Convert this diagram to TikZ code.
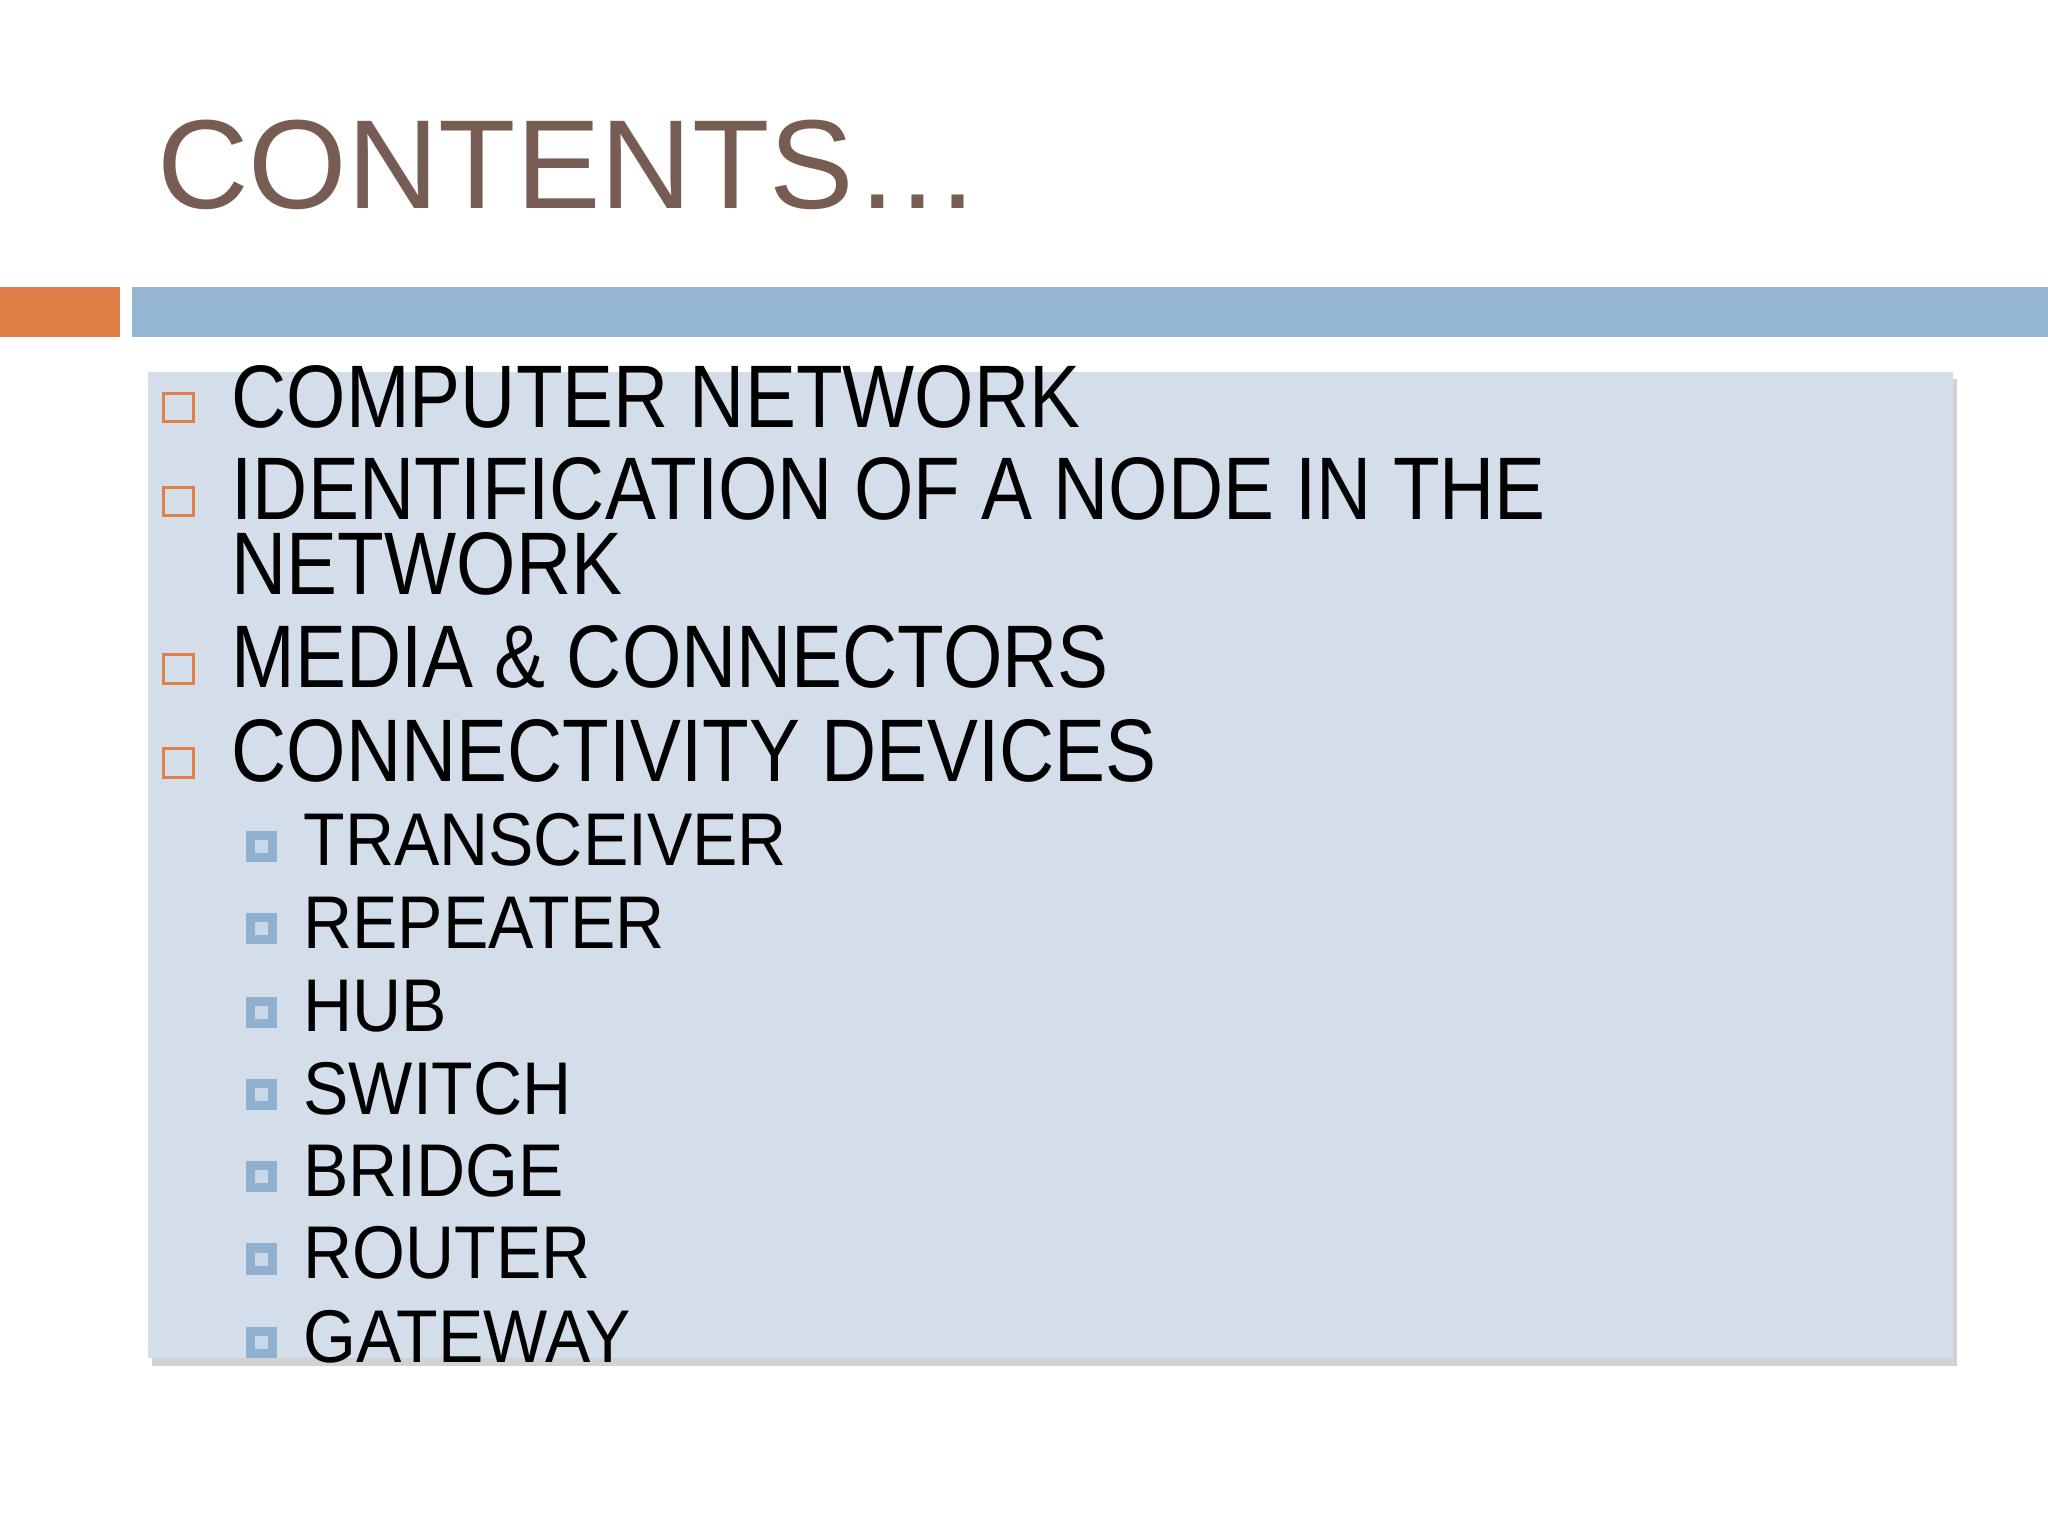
\documentclass[tikz,border=0pt]{standalone}
\usepackage{fontspec}
\setmainfont{Liberation Sans}
\newfontfamily\mainf[FakeStretch=0.86]{Liberation Sans}
\newfontfamily\subf[FakeStretch=0.91]{Liberation Sans}
\definecolor{titlec}{RGB}{118,92,82}
\definecolor{orangec}{RGB}{224,128,72}
\definecolor{bluebar}{RGB}{148,182,210}
\definecolor{panelc}{RGB}{211,222,234}
\definecolor{bulb}{RGB}{143,176,207}
\definecolor{bulbin}{RGB}{200,216,232}
\tikzset{
 main/.style={anchor=base west,inner sep=0pt,font=\mainf\fontsize{34}{38}\selectfont},
 sub/.style={anchor=base west,inner sep=0pt,font=\subf\fontsize{28.6}{32}\selectfont},
}
\newcommand{\obul}[1]{\draw[orangec,line width=1.2pt] (125,#1-11) rectangle (148,#1+11);}
\newcommand{\bbul}[1]{\fill[bulb] (188,#1-12) rectangle (212,#1+12); \fill[bulbin] (195,#1-5) rectangle (205,#1+5);}
\begin{document}
\begin{tikzpicture}[x=0.5pt,y=-0.5pt]
\useasboundingbox (0,0) rectangle (1568,1176);
\fill[white] (0,0) rectangle (1568,1176);
\node[anchor=base west,inner sep=0pt,text=titlec,font=\fontsize{48.5}{54}\selectfont] (title) at (120,160) {CONTENTS…};
\fill[orangec] (0,220) rectangle (92,258);
\fill[bluebar] (101,220) rectangle (1568,258);
\fill[gray!35] (116,290) rectangle (1498,1046);
\fill[panelc] (113,285) rectangle (1495,1040);
\obul{312}\obul{384}\obul{512}\obul{584}
\node[main] (a) at (177,327) {COMPUTER NETWORK};
\node[main] (b) at (177,398) {IDENTIFICATION OF A NODE IN THE};
\node[main] (b2) at (177,455) {NETWORK};
\node[main] (c) at (177,526) {MEDIA \& CONNECTORS};
\node[main] (d) at (177,598) {CONNECTIVITY DEVICES};
\bbul{648}\bbul{711}\bbul{775}\bbul{838}\bbul{901}\bbul{964}\bbul{1028}
\node[sub] (s1) at (232,663) {TRANSCEIVER};
\node[sub] (s2) at (232,726) {REPEATER};
\node[sub] (s3) at (232,790) {HUB};
\node[sub] (s4) at (232,853) {SWITCH};
\node[sub] (s5) at (232,916) {BRIDGE};
\node[sub] (s6) at (232,979) {ROUTER};
\node[sub] (s7) at (232,1043) {GATEWAY};
\end{tikzpicture}
\end{document}
